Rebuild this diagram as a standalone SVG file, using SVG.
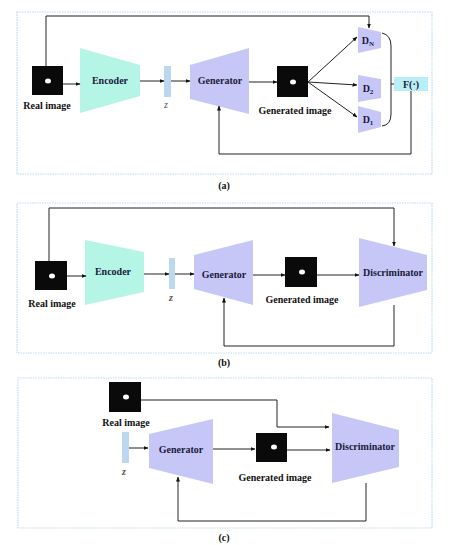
<svg xmlns="http://www.w3.org/2000/svg" width="474" height="545" viewBox="0 0 474 545">
<defs>
<marker id="ah" viewBox="0 0 10 10" refX="9" refY="5" markerWidth="5" markerHeight="5" orient="auto" markerUnits="userSpaceOnUse">
<path d="M0,1 L10,5 L0,9 Z" fill="#111"/>
</marker>
<style>
.panel{fill:none;stroke:#b9dcf2;stroke-width:1.2;stroke-dasharray:1.5,1}
.enc{fill:#b4f5e6}
.gen{fill:#c7c7f7}
.zb{fill:#bcd8f0}
.img{fill:#0a0a0a}
.dot{fill:#fff}
.fbox{fill:#b8eef6}
.t{font-family:"Liberation Serif",serif;font-weight:bold;font-size:10px;fill:#1a1a3a;text-anchor:middle}
.tl{font-family:"Liberation Serif",serif;font-weight:bold;font-size:10px;fill:#111;text-anchor:middle}
.z{font-family:"Liberation Serif",serif;font-style:italic;font-size:10px;fill:#555;text-anchor:middle}
.c{fill:none;stroke:#222;stroke-width:1}
.ca{fill:none;stroke:#222;stroke-width:1;marker-end:url(#ah)}
</style>
</defs>
<rect width="474" height="545" fill="#fff"/>

<!-- Panel (a) -->
<rect class="panel" x="17" y="12" width="415" height="162"/>
<g id="a-real"><rect class="img" x="32" y="66" width="31" height="29"/><ellipse class="dot" cx="48" cy="81" rx="3" ry="2.5"/><text class="tl" x="47" y="109">Real image</text></g>
<g id="a-encoder"><polygon class="enc" points="80,48 140,65 140,96 80,113"/><text class="t" x="110" y="84">Encoder</text></g>
<g id="a-z"><rect class="zb" x="164" y="66" width="7" height="31"/><text class="z" x="166" y="108">z</text></g>
<g id="a-generator"><polygon class="gen" points="190,65 249,48 249,114 190,99"/><text class="t" x="220" y="84">Generator</text></g>
<g id="a-genimg"><rect class="img" x="277" y="66" width="31" height="31"/><ellipse class="dot" cx="293" cy="82" rx="3" ry="2.5"/><text class="tl" x="295" y="114">Generated image</text></g>
<g id="a-DN"><polygon class="gen" points="358,27 381,32 381,48 358,53"/><text class="t" x="368" y="44">D<tspan font-size="7" dy="2">N</tspan></text></g>
<g id="a-D2"><polygon class="gen" points="358,75 381,79 381,98 358,102"/><text class="t" x="368" y="92">D<tspan font-size="7" dy="2">2</tspan></text></g>
<g id="a-D1"><polygon class="gen" points="358,106 381,112 381,127 358,133"/><text class="t" x="368" y="123">D<tspan font-size="7" dy="2">1</tspan></text></g>
<g id="a-F"><rect class="fbox" x="394" y="77" width="34" height="14"/><text class="t" x="411" y="88">F(·)</text></g>
<g id="a-conn">
<path class="ca" d="M46,66 V16 H369 V28"/>
<path class="ca" d="M63,84 H80"/>
<path class="ca" d="M140,81 H164"/>
<path class="ca" d="M171,81 H190"/>
<path class="ca" d="M249,82 H277"/>
<path class="ca" d="M308,82 L357,37"/>
<path class="ca" d="M308,82 L357,85"/>
<path class="ca" d="M308,82 L357,117"/>
<path class="c" d="M382,33 Q391,35 391,46 V114 Q391,125 382,126"/>
<path class="c" stroke="#999" d="M391,84 H394"/>
<path class="ca" d="M411,91 V154 H219 V106"/>
</g>
<text class="tl" x="224" y="189">(a)</text>

<!-- Panel (b) -->
<rect class="panel" x="17" y="203" width="415" height="150"/>
<g id="b-real"><rect class="img" x="35" y="261" width="32" height="29"/><ellipse class="dot" cx="52" cy="276" rx="3" ry="2.5"/><text class="tl" x="52" y="307">Real image</text></g>
<g id="b-encoder"><polygon class="enc" points="85,240 144,252 144,292 85,305"/><text class="t" x="113" y="275">Encoder</text></g>
<g id="b-z"><rect class="zb" x="169" y="258" width="6" height="31"/><text class="z" x="171" y="301" font-weight="bold" fill="#333">z</text></g>
<g id="b-generator"><polygon class="gen" points="194,255 253,240 253,305 194,289"/><text class="t" x="224" y="278">Generator</text></g>
<g id="b-genimg"><rect class="img" x="285" y="257" width="32" height="30"/><ellipse class="dot" cx="302" cy="272" rx="3" ry="2.5"/><text class="tl" x="302" y="303">Generated image</text></g>
<g id="b-disc"><polygon class="gen" points="359,238 427,255 427,290 359,307"/><text class="t" x="393" y="276" font-size="10.5">Discriminator</text></g>
<g id="b-conn">
<path class="ca" d="M49,261 V208 H394 V246"/>
<path class="ca" d="M67,276 H86"/>
<path class="ca" d="M144,274 H169"/>
<path class="ca" d="M175,274 H194"/>
<path class="ca" d="M253,275 H285"/>
<path class="ca" d="M317,275 H359"/>
<path class="ca" d="M394,305 V346 H224 V298"/>
</g>
<text class="tl" x="224" y="366">(b)</text>

<!-- Panel (c) -->
<rect class="panel" x="18" y="378" width="414" height="150"/>
<g id="c-real"><rect class="img" x="109" y="382" width="32" height="30"/><ellipse class="dot" cx="126" cy="397" rx="3" ry="2.5"/><text class="tl" x="126" y="426">Real image</text></g>
<g id="c-z"><rect class="zb" x="122" y="432" width="7" height="31"/><text class="z" x="124" y="475" font-weight="bold" fill="#333">z</text></g>
<g id="c-generator"><polygon class="gen" points="149,434 213,419 213,484 149,468"/><text class="t" x="181" y="453">Generator</text></g>
<g id="c-genimg"><rect class="img" x="256" y="433" width="31" height="29"/><ellipse class="dot" cx="274" cy="447" rx="3" ry="2.5"/><text class="tl" x="275" y="481">Generated image</text></g>
<g id="c-disc"><polygon class="gen" points="332,413 399,430 399,467 332,483"/><text class="t" x="365" y="450" font-size="10.5">Discriminator</text></g>
<g id="c-conn">
<path class="ca" d="M141,400 H277 V427 H329"/>
<path class="ca" d="M129,448 H148"/>
<path class="ca" d="M213,449 H255"/>
<path class="ca" d="M287,450 H330"/>
<path class="ca" d="M366,483 V521 H178 V477"/>
</g>
<text class="tl" x="224" y="541">(c)</text>
</svg>
